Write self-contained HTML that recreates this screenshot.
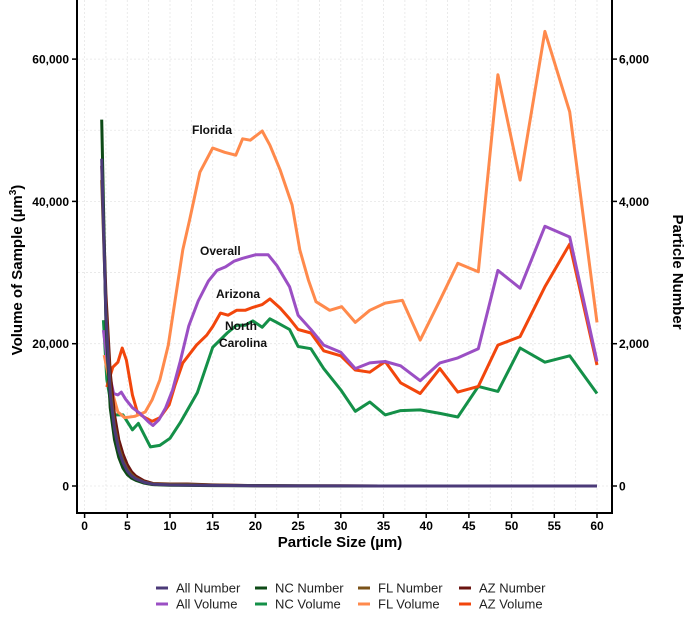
<!DOCTYPE html>
<html><head><meta charset="utf-8"><style>
body{margin:0;background:#fff;}
svg{display:block;font-family:"Liberation Sans",Arial,sans-serif;}
</style></head><body>
<svg id="chart" width="685" height="620" viewBox="0 0 685 620">
<g id="grid"></g>
<g id="series"></g>
<g id="axes"></g>
<g font-weight="bold" font-size="12" fill="#111">
<text x="192" y="134">Florida</text>
<text x="200" y="255">Overall</text>
<text x="216" y="298">Arizona</text>
<text x="225" y="330">North</text>
<text x="219" y="347">Carolina</text>
</g>
<text transform="translate(22,270) rotate(-90)" text-anchor="middle" font-weight="bold" font-size="15">Volume of Sample (µm<tspan dy="-6" font-size="10">3</tspan><tspan dy="6">)</tspan></text>
<text transform="translate(673,272) rotate(90)" text-anchor="middle" font-weight="bold" font-size="15">Particle Number</text>
<text x="340" y="547" text-anchor="middle" font-weight="bold" font-size="15">Particle Size (µm)</text>
<g id="legend" font-size="13" fill="#222"></g>
</svg>
<script>
const xTicks=[0,5,10,15,20,25,30,35,40,45,50,55,60];
const yTicksLeft=[0,20000,40000,60000];
const yTickLabelsLeft=["0","20,000","40,000","60,000"];
const yTicksRight=[0,2000,4000,6000];
const yTickLabelsRight=["0","2,000","4,000","6,000"];

const numX=[2,2.5,3,3.5,4,4.5,5,5.5,6,7,8,10,12,15,20,25,30,40,50,60];
const allNumber=[4600,2400,1300,800,500,330,210,140,100,50,25,15,12,8,4,2,1,0,0,0];
const ncNumber=[5150,2300,1100,650,400,250,160,110,80,40,20,10,8,5,3,1,0,0,0,0];
const flNumber=[4300,2500,1400,850,550,360,240,160,110,55,30,25,22,12,5,2,1,0,0,0];
const azNumber=[4500,2700,1600,1000,650,450,300,200,140,70,35,28,28,15,6,2,1,0,0,0];

const flX=[2.3,3.0,3.9,4.7,5.9,7.1,7.9,8.8,9.8,10.6,11.5,12.3,13.5,15.0,16.4,17.7,18.5,19.4,20.8,21.7,22.9,24.3,25.2,26.2,27.1,28.7,30.1,31.7,33.4,35.2,37.2,39.3,41.6,43.7,46.1,48.4,51.0,53.9,56.8,60];
const flVolume=[18400,14200,10400,9600,9800,10400,12100,14900,19800,26100,33200,37400,44100,47500,46900,46500,48800,48600,49900,47900,44400,39500,33200,29000,25900,24700,25200,23000,24700,25700,26100,20500,26100,31300,30100,57800,43000,63900,52600,23000];

const azX=[2.6,3.3,3.9,4.4,4.9,5.6,6.2,7.1,7.9,8.8,9.9,10.6,11.5,13.1,14.3,15.0,15.9,16.8,17.8,18.8,19.7,20.8,21.7,22.9,24.0,25.0,26.5,28.0,30.0,31.7,33.4,35.2,37.0,39.3,41.6,43.7,46.1,48.4,51.0,53.9,56.8,60];
const azVolume=[13900,16700,17400,19400,17700,12800,10300,9600,9100,9600,11400,14200,17300,19800,21200,22400,24300,24000,24700,24700,25100,25500,26300,25000,23500,22000,21500,19000,18300,16300,16000,17500,14500,13000,16500,13200,14000,19800,21000,28000,34000,17000];

const allX=[2.2,2.8,3.4,3.9,4.3,4.8,5.6,6.5,7.5,8,8.7,9.5,10.3,11.2,12.2,13.3,14.5,15.5,16.5,17.5,18.5,20,21.5,22.5,24,25,26.5,28,30,31.7,33.4,35.2,37,39.3,41.6,43.7,46.1,48.4,51,53.9,56.8,60];
const allVolume=[21900,16300,13000,12800,13200,12200,11000,10200,9000,8500,9300,11000,13500,17500,22500,26000,28800,30300,30800,31600,32000,32500,32500,31000,28000,24000,22000,19800,18800,16500,17300,17500,16900,14800,17300,18000,19300,30300,27800,36500,35000,17500];

const ncX=[2.2,2.6,3.3,4.5,5.6,6.3,7.7,8.8,10.0,11.2,13.2,15.0,16.7,17.8,18.8,19.7,20.8,21.7,22.5,24,25,26.5,28,30,31.7,33.4,35.2,37,39.3,41.6,43.7,46.1,48.4,51,53.9,56.8,60];
const ncVolume=[23300,15000,10000,10000,7900,8800,5500,5700,6700,8900,13100,19500,21500,22600,22600,23200,22300,23500,23000,22000,19600,19300,16500,13500,10500,11800,10000,10600,10700,10200,9700,14000,13300,19400,17400,18300,13000];

const X0=84.6,XS=(597-84.6)/60,Y0=486,YS=142.3/20000,YSR=142.3/2000;
const sx=v=>X0+v*XS, syL=v=>Y0-v*YS, syR=v=>Y0-v*YSR;
const NS="http://www.w3.org/2000/svg";
function mk(tag,attrs,parent){const e=document.createElementNS(NS,tag);for(const k in attrs)e.setAttribute(k,attrs[k]);parent.appendChild(e);return e;}
const grid=document.getElementById('grid'),axes=document.getElementById('axes'),ser=document.getElementById('series'),leg=document.getElementById('legend');
for(let i=0;i<=24;i++){const v=i*2.5;const l=mk('line',{x1:sx(v),x2:sx(v),y1:0,y2:513,stroke:'#e6e6e6','stroke-width':0.8,'stroke-dasharray':'2,2'},grid);

}
for(let i=0;i<=7;i++){const v=i*10000;const l=mk('line',{x1:78,x2:611,y1:syL(v),y2:syL(v),stroke:'#e6e6e6','stroke-width':0.8,'stroke-dasharray':'2,2'},grid);

}
mk('line',{x1:77,x2:77,y1:0,y2:514,stroke:'#000','stroke-width':2},axes);
mk('line',{x1:612,x2:612,y1:0,y2:514,stroke:'#000','stroke-width':2},axes);
mk('line',{x1:76,x2:613,y1:513,y2:513,stroke:'#000','stroke-width':2},axes);
xTicks.forEach(v=>{mk('line',{x1:sx(v),x2:sx(v),y1:513,y2:518,stroke:'#000','stroke-width':1.5},axes);
const t=mk('text',{x:sx(v),y:530,'text-anchor':'middle','font-size':12,'font-weight':'bold'},axes);t.textContent=v;

});
yTicksLeft.forEach((v,i)=>{mk('line',{x1:72,x2:77,y1:syL(v),y2:syL(v),stroke:'#000','stroke-width':1.5},axes);
const t=mk('text',{x:69,y:syL(v)+4.5,'text-anchor':'end','font-size':12,'font-weight':'bold'},axes);t.textContent=yTickLabelsLeft[i];

});
yTicksRight.forEach((v,i)=>{mk('line',{x1:612,x2:617,y1:syR(v),y2:syR(v),stroke:'#000','stroke-width':1.5},axes);
const t=mk('text',{x:619,y:syR(v)+4.5,'text-anchor':'start','font-size':12,'font-weight':'bold'},axes);t.textContent=yTickLabelsRight[i];

});
function line(xs,ys,sy,color,name){const d=xs.map((x,i)=>(i?'L':'M')+sx(x).toFixed(1)+','+sy(ys[i]).toFixed(1)).join(' ');
const p=mk('path',{d:d,fill:'none',stroke:color,'stroke-width':3,'stroke-linejoin':'round'},ser);

}
const C={allN:'#4b3a78',allV:'#9b4fc4',ncN:'#0d4a16',ncV:'#149048',flN:'#7a5218',flV:'#ff8a4c',azN:'#6a1410',azV:'#f2460c'};
line(ncX,ncVolume,syL,C.ncV,'nc-volume-line');
line(azX,azVolume,syL,C.azV,'az-volume-line');
line(flX,flVolume,syL,C.flV,'fl-volume-line');
line(allX,allVolume,syL,C.allV,'all-volume-line');
line(numX,azNumber,syR,C.azN,'az-number-line');
line(numX,flNumber,syR,C.flN,'fl-number-line');
line(numX,ncNumber,syR,C.ncN,'nc-number-line');
line(numX,allNumber,syR,C.allN,'all-number-line');
const legItems=[['All Number',C.allN,156,588],['NC Number',C.ncN,255,588],['FL Number',C.flN,358,588],['AZ Number',C.azN,459,588],
['All Volume',C.allV,156,604],['NC Volume',C.ncV,255,604],['FL Volume',C.flV,358,604],['AZ Volume',C.azV,459,604]];
legItems.forEach(it=>{const g=mk('g',{},leg);


mk('line',{x1:it[2],x2:it[2]+12,y1:it[3],y2:it[3],stroke:it[1],'stroke-width':3},g);
const t=mk('text',{x:it[2]+20,y:it[3]+4.5},g);t.textContent=it[0];});
</script>
</body></html>
